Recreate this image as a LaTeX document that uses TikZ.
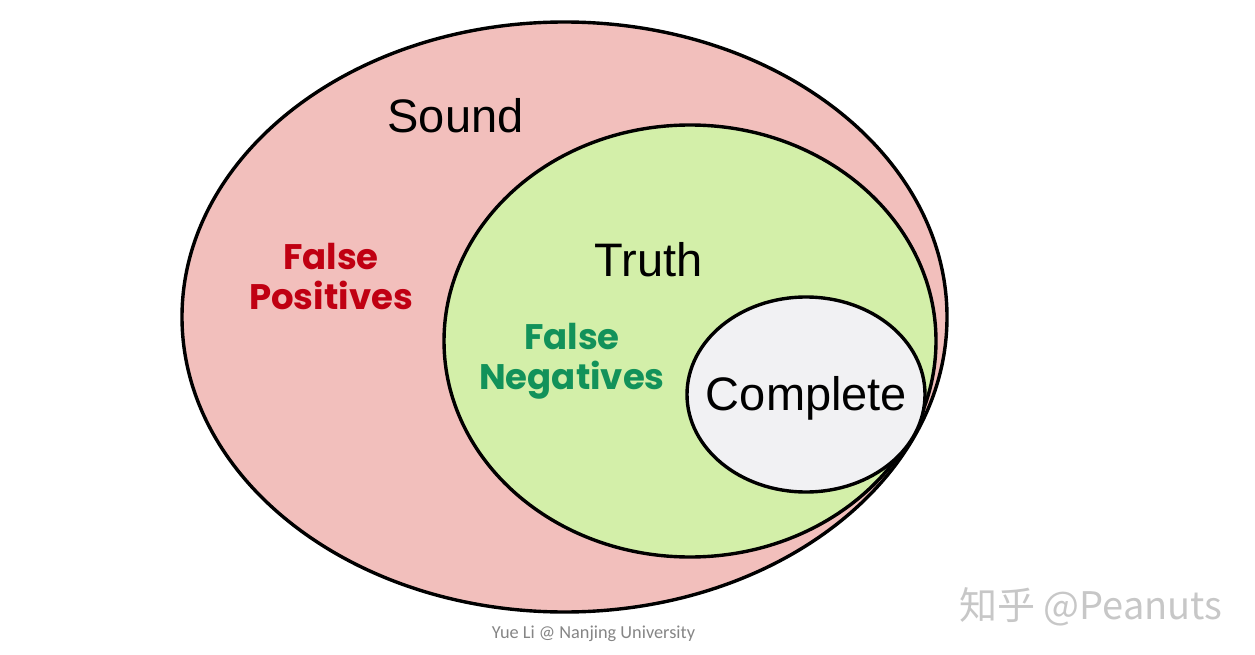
\documentclass[tikz,border=0pt]{standalone}
\usepackage{fontspec}
\setmainfont{Liberation Sans}
\newfontfamily\comicfont{Poppins}
\newfontfamily\cjkfont{Noto Sans CJK SC}
\newfontfamily\footfont{Carlito}
\definecolor{soundpink}{HTML}{F2BFBC}
\definecolor{truthgreen}{HTML}{D3EFA9}
\definecolor{completegray}{HTML}{F1F1F3}
\definecolor{fpred}{HTML}{C00012}
\definecolor{fngreen}{HTML}{12925A}

\begin{document}
\begin{tikzpicture}[x=1pt, y=-1pt,
  setline/.style={line width=3.4pt},
  setname/.style={font=\fontsize{47}{50}\selectfont, anchor=base, inner sep=0pt},
  errname/.style={font=\comicfont\bfseries\fontsize{35.5}{40}\selectfont, anchor=base, inner sep=0pt, align=center}]
\useasboundingbox (0,0) rectangle (1255,655);
\draw [setline, fill=soundpink] (564.5,317) ellipse (382.5 and 295);
\draw [setline, fill=truthgreen] (690,341) ellipse (246 and 216);
\draw [setline, fill=completegray] (806,394.5) ellipse (119 and 97.5);
\node [setname] (sound) at (455.5,133) {Sound};
\node [setname] (truth) at (648.5,276) {Truth};
\node [setname] (complete) at (806.5,410) {Complete};
% base anchor sits on the last line
\node [errname, text=fpred] (fpos) at (331,309) {False\\Positives};
\node [errname, text=fngreen] (fneg) at (572,389) {False\\Negatives};
\node [font=\footfont\fontsize{18.3}{20}\selectfont, text=black!48, anchor=base] (credit) at (593.5,638) {Yue Li @ Nanjing University};
\node [font=\cjkfont\fontsize{38}{40}\selectfont, text=black!22, anchor=base] (mark) at (1091,619) {知乎 @Peanuts};
\end{tikzpicture}
\end{document}
